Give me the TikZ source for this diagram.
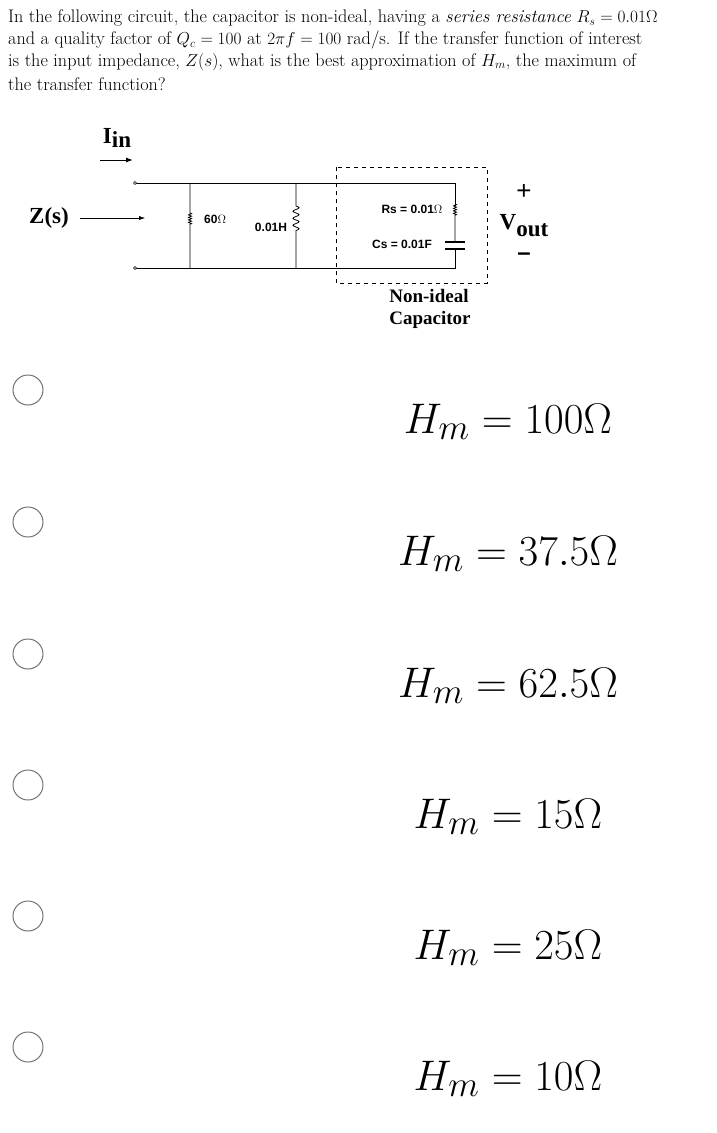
\documentclass[tikz,border=0pt]{standalone}
\usepackage{fontspec}
\usepackage{amsmath}
\newfontfamily\arl{Liberation Sans}
\newfontfamily\tms{Liberation Serif}
\usetikzlibrary{decorations.pathmorphing,arrows.meta}
\begin{document}
\begin{tikzpicture}[x=1pt,y=-1pt,
  q/.style={anchor=west,inner sep=0pt,font=\fontsize{18.2}{20}\selectfont},
  lab/.style={font=\arl\bfseries\fontsize{12}{13}\selectfont,inner sep=1pt},
  big/.style={font=\tms\bfseries\fontsize{23}{25}\selectfont,inner sep=0pt},
  opt/.style={draw=black!55,line width=1pt,circle,minimum size=30pt,inner sep=0pt},
  ans/.style={font=\fontsize{24.88}{28}\selectfont,inner sep=0pt},
  term/.style={draw,circle,minimum size=3pt,inner sep=0pt,fill=white},
  wire/.style={line width=0.8pt}]
\useasboundingbox (0,0) rectangle (717,1133);
\node[q] (l1) at (8,18) {In the following circuit, the capacitor is non-ideal, having a \textit{series resistance} $R_s=0.01\Omega$};
\node[q] (l2) at (8,40) {and a quality factor of $Q_c=100$ at $2\pi f=100$ rad/s. If the transfer function of interest};
\node[q] (l3) at (8,62) {is the input impedance, $Z(s)$, what is the best approximation of $H_m$, the maximum of};
\node[q] (l4) at (8,84) {the transfer function?};
% circuit
\coordinate (t1) at (135,183); \coordinate (b1) at (135,268);
\coordinate (rt) at (190,183); \coordinate (rb) at (190,268);
\coordinate (lt) at (296,183); \coordinate (lb) at (296,268);
\coordinate (ct) at (455,183); \coordinate (cb) at (455,268);
\draw[wire] (t1) -- (ct) -- (455,206);
\draw[wire] (b1) -- (cb) -- (455,250);
\draw[wire] (rt) -- (190,213) decorate[decoration={zigzag,segment length=2.5pt,amplitude=1.5pt}]{-- (190,225)} -- (rb);
\draw[wire] (lt) -- (296,206) decorate[decoration={coil,aspect=0,segment length=7pt,amplitude=3pt}]{-- (296,234)} -- (lb);
\draw[wire] (455,204) decorate[decoration={zigzag,segment length=2.5pt,amplitude=1.5pt}]{-- (455,216)} -- (455,242);
\draw[line width=1.6pt] (445,242) -- (465,242) (445,249) -- (465,249);
\draw[wire] (455,249) -- (455,252);
\node[term] (T1) at (t1) {}; \node[term] (B1) at (b1) {};
\draw[dashed,line width=0.7pt,dash pattern=on 4pt off 4pt] (336,167) rectangle (487,283);
\node[lab,anchor=west] (r60) at (203,219) {60$\Omega$};
\node[lab] (lh) at (271,227) {0.01H};
\node[lab] (rs) at (412,209) {Rs = 0.01$\Omega$};
\node[lab] (cs) at (402,244) {Cs = 0.01F};
\node[big] (zs) at (49,218) {Z(s)};
\coordinate (za) at (80,218); \coordinate (zb) at (145,218);
\draw[-{Latex[length=6pt,width=4pt]}] (za) -- (zb);
\node[big] (iin) at (117,138) {I\raisebox{-4pt}{in}};
\coordinate (ia) at (100,160); \coordinate (ib) at (133,160);
\draw[line width=1pt,-{Latex[length=7pt,width=5pt]}] (ia) -- (ib);
\node[big] (vo) at (524,226) {V\raisebox{-7pt}{out}};
\node[font=\arl\fontsize{26}{26}\selectfont] (pl) at (524,192) {+};
\node[font=\arl\bfseries\fontsize{24}{24}\selectfont] (mi) at (524,257) {–};
\node[font=\tms\bfseries\fontsize{19}{22}\selectfont,align=left] (ni) at (430,309) {Non-ideal\\Capacitor};
% options
\foreach \y/\t in {390/100,522/37.5,654/62.5,785/15,916/25,1047/10}{
  \node[opt] at (28,\y) {};
  \node[ans] at (508,\y+32) {\scalebox{1.72}{$H_m=\t\Omega$}};
}
\end{tikzpicture}
\end{document}
